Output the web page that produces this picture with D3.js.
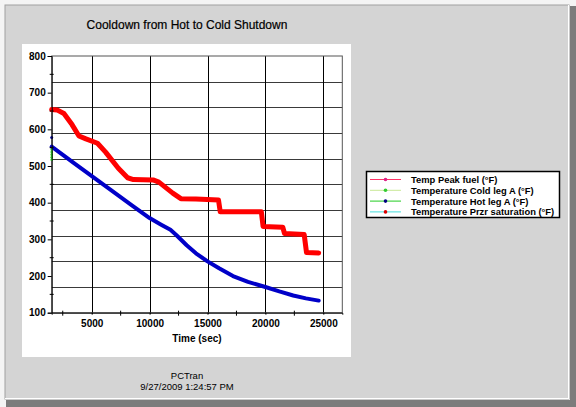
<!DOCTYPE html>
<html lang="en">
<head>
    <meta charset="UTF-8">
    <title>Cooldown from Hot to Cold Shutdown</title>
    <script src="https://cdn.jsdelivr.net/npm/d3@7/dist/d3.min.js"></script>
    <style>
        body { margin: 0; background: #ffffff; }
        text { font-family: "Liberation Sans", Arial, sans-serif; }
    </style>
</head>
<body>
<svg width="576" height="407" id="chart"></svg>

<script>
    // ---- data ----
    var chartTitle = "Cooldown from Hot to Cold Shutdown";
    var xLabel = "Time (sec)";
    var footer = ["PCTran", "9/27/2009 1:24:57 PM"];

    var xTicks = [5000, 10000, 15000, 20000, 25000];
    var xMinor = [2500, 7500, 12500, 17500, 22500];
    var yTicks = [100, 200, 300, 400, 500, 600, 700, 800];
    var yMinor = [150, 250, 350, 450, 550, 650, 750];
    var yGrid = [170, 240, 310, 380, 450, 520, 590, 660, 730];

    var seriesNames = [
        "Temp Peak fuel (°F)",
        "Temperature Cold leg A (°F)",
        "Temperature Hot leg A (°F)",
        "Temperature Przr saturation (°F)"
    ];
    var legendLineColors = ["#ff3366", "#c8e896", "#22cc22", "#44dddd"];
    var legendDotColors = ["#dd2288", "#33cc33", "#000080", "#dd0000"];

    // time (sec), temperature (F)
    var przrTime = [1546, 2000, 2600, 3300, 3900, 4500, 5500, 6200, 7300, 8100, 8600, 10300, 10800, 12000, 12700, 14000, 15950, 16100, 19650, 19800, 21500, 21650, 23350, 23550, 24600];
    var przrTemp = [654, 653, 643, 613, 582, 574, 562, 538, 494, 468, 463, 462, 456, 426, 411, 410, 407, 375, 375, 335, 333, 316, 313, 264, 263];

    var hotTime = [1546, 3500, 6580, 8500, 10000, 11000, 11800, 12300, 13200, 14000, 15000, 16000, 17200, 18500, 20000, 21200, 22400, 23500, 24600];
    var hotTemp = [553, 507, 436, 392, 358, 340, 326, 312, 284, 262, 240, 221, 200, 184, 170, 158, 147, 139, 133];

    var hotStartTime = [1546];
    var hotStartTemp = [578];

    var coldTime = [1546, 1546, 1546, 1546, 1546];
    var coldTemp = [545, 538, 531, 524, 517];

    // ---- canvas ----
    var svg = d3.select("#chart");

    // window frame
    svg.append("rect").attr("x", 0).attr("y", 0).attr("width", 576).attr("height", 407).attr("fill", "#f4f4f4");
    svg.append("rect").attr("x", 570).attr("y", 6).attr("width", 6).attr("height", 401).attr("fill", "#7c7c7c");
    svg.append("rect").attr("x", 6).attr("y", 400).attr("width", 570).attr("height", 7).attr("fill", "#7c7c7c");
    svg.append("rect").attr("x", 5).attr("y", 5).attr("width", 564).attr("height", 394)
        .attr("fill", "#d4d4d4").attr("stroke", "#a0a0a0").attr("stroke-width", 1);
    svg.append("line").attr("x1", 568.5).attr("y1", 5).attr("x2", 568.5).attr("y2", 399)
        .attr("stroke", "#ffffff");
    svg.append("line").attr("x1", 5).attr("y1", 398.5).attr("x2", 569).attr("y2", 398.5)
        .attr("stroke", "#ffffff");

    // title
    svg.append("text")
        .attr("x", 187).attr("y", 28.5)
        .attr("text-anchor", "middle")
        .attr("font-size", "12px")
        .attr("fill", "#000")
        .attr("stroke", "#000")
        .attr("stroke-width", 0.2)
        .text(chartTitle);

    // white chart panel
    svg.append("rect").attr("x", 22).attr("y", 44).attr("width", 329).attr("height", 313).attr("fill", "#ffffff");

    // scales
    var x = d3.scaleLinear().domain([1546, 26640]).range([51.7, 342.3]);
    var y = d3.scaleLinear().domain([100, 800]).range([312.7, 56]);

    var plot = svg.append("g");

    // horizontal grid (10 equal parts)
    plot.selectAll(".hgrid")
        .data(yGrid)
        .enter()
        .append("line")
        .attr("x1", x.range()[0]).attr("x2", x.range()[1])
        .attr("y1", function (d) { return Math.round(y(d)) + 0.5; })
        .attr("y2", function (d) { return Math.round(y(d)) + 0.5; })
        .attr("stroke", "#3a3a3a")
        .attr("stroke-width", 1);

    // vertical grid at major ticks
    plot.selectAll(".vgrid")
        .data(xTicks)
        .enter()
        .append("line")
        .attr("x1", function (d) { return Math.round(x(d)) + 0.5; })
        .attr("x2", function (d) { return Math.round(x(d)) + 0.5; })
        .attr("y1", y.range()[1]).attr("y2", y.range()[0] + 1)
        .attr("stroke", "#000")
        .attr("stroke-width", 1);

    // plot border
    plot.append("rect")
        .attr("x", x.range()[0]).attr("y", y.range()[1])
        .attr("width", x.range()[1] - x.range()[0])
        .attr("height", y.range()[0] - y.range()[1])
        .attr("fill", "none")
        .attr("stroke", "#555")
        .attr("stroke-width", 1);

    // axes
    var yAxis = d3.axisLeft(y).tickValues(yTicks).tickSize(4).tickPadding(2).tickFormat(d3.format("d"));
    var gy = svg.append("g").attr("transform", "translate(" + x.range()[0] + ",0)").call(yAxis);
    gy.select(".domain").attr("stroke", "#000");
    gy.selectAll("text").attr("font-size", "10px").attr("font-weight", "bold").attr("fill", "#000");

    var xAxis = d3.axisBottom(x).tickValues(xTicks).tickSize(2).tickPadding(5).tickFormat(d3.format("d"));
    var gx = svg.append("g").attr("transform", "translate(0," + y.range()[0] + ")").call(xAxis);
    gx.select(".domain").attr("stroke", "#000");
    gx.selectAll("text").attr("font-size", "10px").attr("font-weight", "bold").attr("fill", "#000");

    // minor ticks
    svg.selectAll(".ymin")
        .data(yMinor)
        .enter()
        .append("line")
        .attr("x1", x.range()[0] - 2).attr("x2", x.range()[0] + 2)
        .attr("y1", function (d) { return y(d); })
        .attr("y2", function (d) { return y(d); })
        .attr("stroke", "#000");
    svg.selectAll(".xmin")
        .data(xMinor)
        .enter()
        .append("line")
        .attr("x1", function (d) { return x(d); })
        .attr("x2", function (d) { return x(d); })
        .attr("y1", y.range()[0] - 2).attr("y2", y.range()[0] + 3)
        .attr("stroke", "#000");

    // x label
    svg.append("text")
        .attr("x", (x.range()[0] + x.range()[1]) / 2).attr("y", 342)
        .attr("text-anchor", "middle")
        .attr("font-size", "10px")
        .attr("font-weight", "bold")
        .text(xLabel);

    // ---- series ----
    function zipSeries(ts, vs) {
        var arr = [];
        for (var i = 0; i < ts.length; i++) {
            arr.push([ts[i], vs[i]]);
        }
        return arr;
    }

    var line = d3.line()
        .x(function (d) { return x(d[0]); })
        .y(function (d) { return y(d[1]); });

    plot.append("path")
        .datum(zipSeries(hotTime, hotTemp))
        .attr("d", line)
        .attr("fill", "none")
        .attr("stroke", "#0000c8")
        .attr("stroke-width", 4)
        .attr("stroke-linejoin", "round")
        .attr("stroke-linecap", "round");

    plot.append("path")
        .datum(zipSeries(przrTime, przrTemp))
        .attr("d", line)
        .attr("fill", "none")
        .attr("stroke", "#ff0000")
        .attr("stroke-width", 5)
        .attr("stroke-linejoin", "round")
        .attr("stroke-linecap", "round");

    plot.selectAll(".cold")
        .data(zipSeries(coldTime, coldTemp))
        .enter()
        .append("circle")
        .attr("cx", function (d) { return x(d[0]); })
        .attr("cy", function (d) { return y(d[1]); })
        .attr("r", 1.3)
        .attr("fill", "#33dd33");

    plot.selectAll(".hotstart")
        .data(zipSeries(hotStartTime, hotStartTemp))
        .enter()
        .append("circle")
        .attr("cx", function (d) { return x(d[0]); })
        .attr("cy", function (d) { return y(d[1]); })
        .attr("r", 1.5)
        .attr("fill", "#000090");

    // ---- legend ----
    var legend = svg.append("g");
    legend.append("rect")
        .attr("x", 366.5).attr("y", 171.5).attr("width", 193).attr("height", 46)
        .attr("fill", "#ffffff").attr("stroke", "#000").attr("stroke-width", 1.5);

    var rows = legend.selectAll(".row")
        .data(seriesNames)
        .enter()
        .append("g")
        .attr("transform", function (d, i) { return "translate(0," + (179.5 + i * 10.8) + ")"; });
    rows.append("line")
        .attr("x1", 370).attr("x2", 401).attr("y1", 0).attr("y2", 0)
        .attr("stroke", function (d, i) { return legendLineColors[i]; })
        .attr("stroke-width", 1);
    rows.append("circle")
        .attr("cx", 385.5).attr("cy", 0).attr("r", 1.8)
        .attr("fill", function (d, i) { return legendDotColors[i]; });
    rows.append("text")
        .attr("x", 411).attr("y", 3.5)
        .attr("font-size", "9.4px")
        .attr("font-weight", "bold")
        .text(function (d) { return d; });

    // footer
    svg.selectAll(".foot")
        .data(footer)
        .enter()
        .append("text")
        .attr("x", 187)
        .attr("y", function (d, i) { return 379 + i * 11; })
        .attr("text-anchor", "middle")
        .attr("font-size", "9.5px")
        .text(function (d) { return d; });
</script>
</body>
</html>
